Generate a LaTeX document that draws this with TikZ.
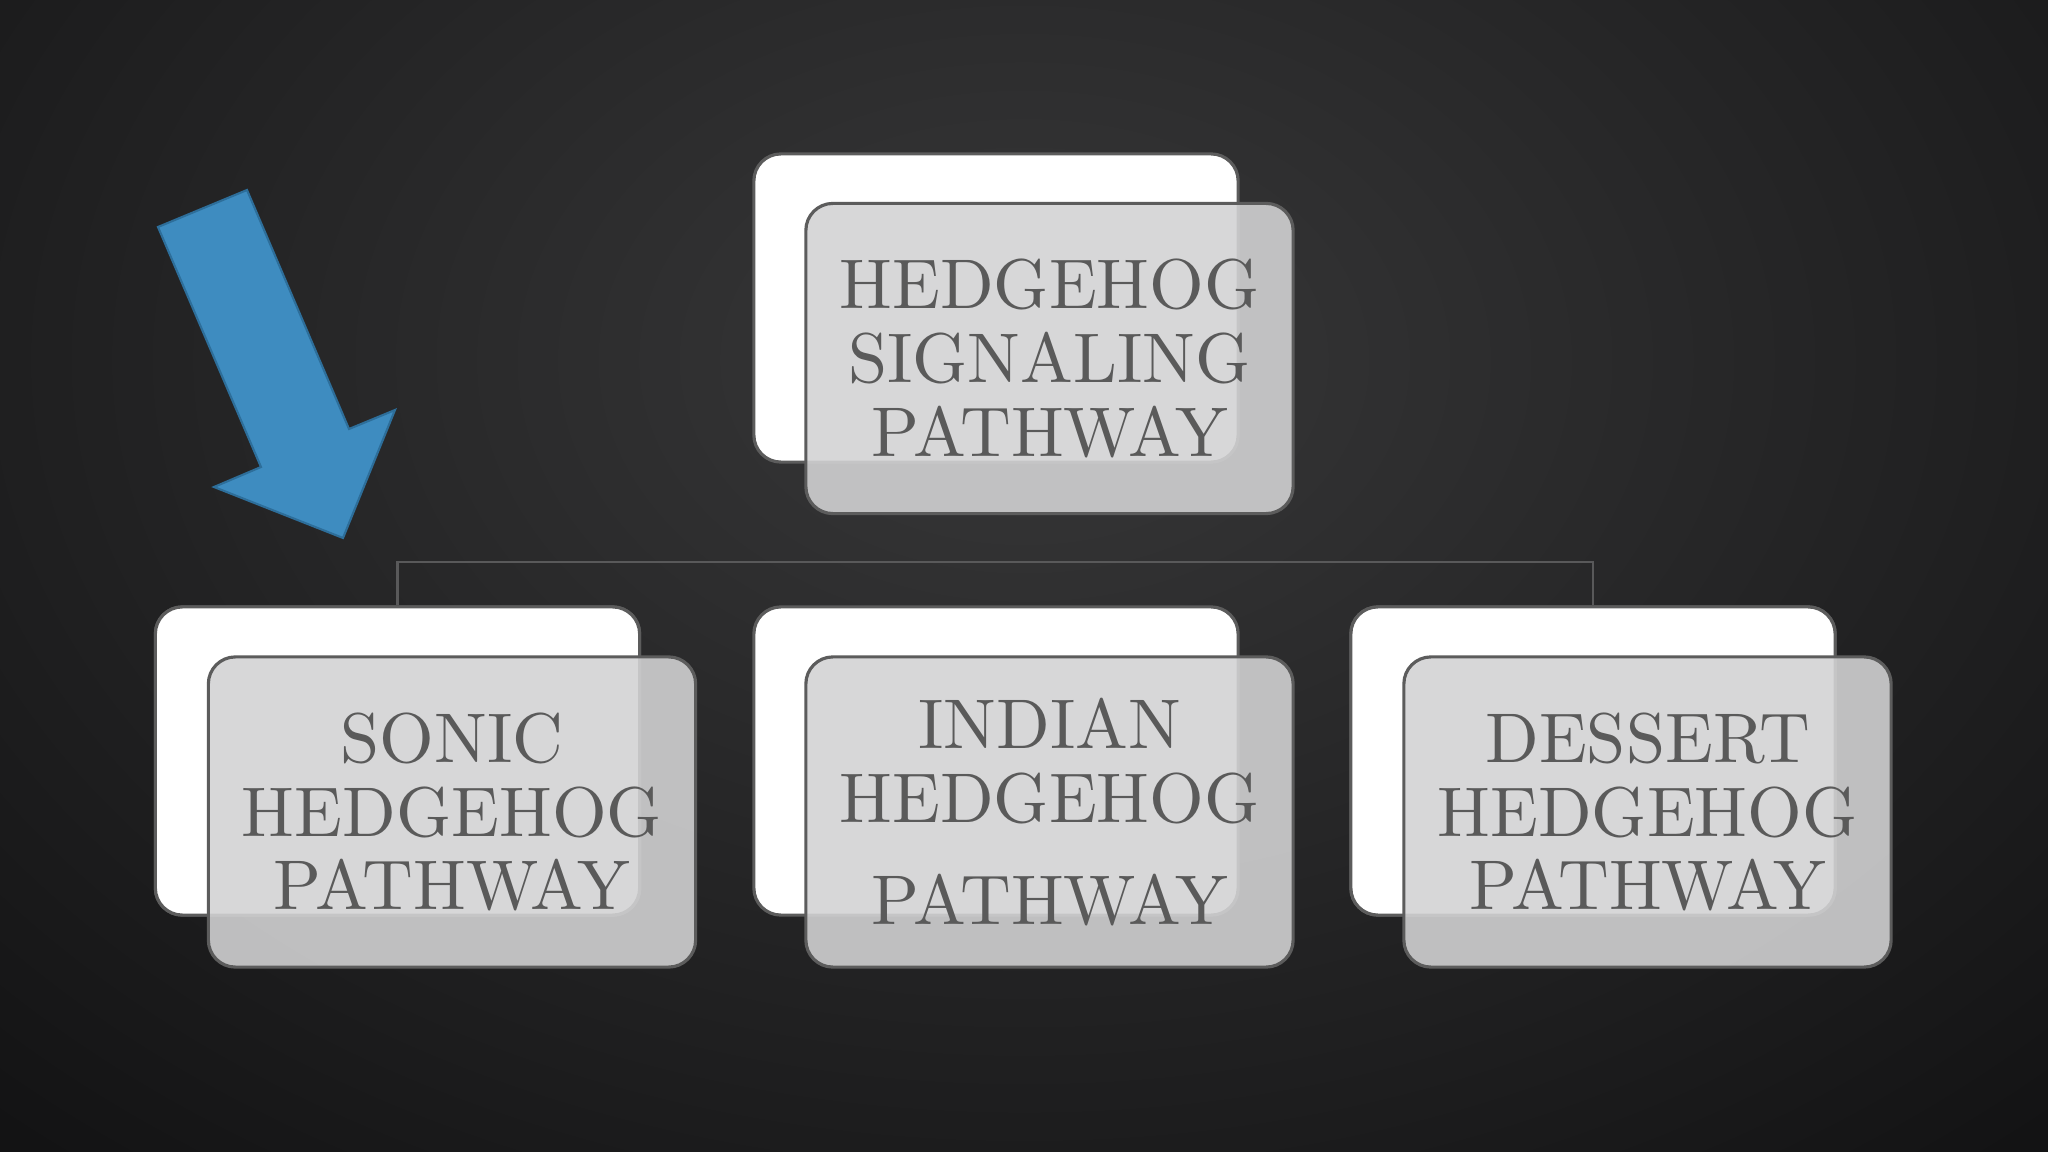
\documentclass[tikz,border=0pt]{standalone}
\usepackage{tikz}
\usepackage{fontspec}
\newfontfamily\lmten{lmroman10-regular.otf}
\definecolor{bgdark}{HTML}{131314}
\definecolor{bgmid}{HTML}{383839}
\definecolor{boxline}{HTML}{5C5C5C}
\definecolor{frontfill}{HTML}{D3D3D4}
\definecolor{txt}{HTML}{5A5A5A}
\definecolor{connc}{HTML}{59595A}
\definecolor{arrowfill}{HTML}{3E8CC0}
\definecolor{arrowline}{HTML}{2D6E9A}
\tikzset{
  backbox/.style={draw=boxline, line width=0.9pt, fill=white, rounded corners=0.27cm,
    minimum width=4.84cm, minimum height=3.08cm, inner sep=0pt},
  frontbox/.style={draw=boxline, line width=0.9pt, fill=frontfill, fill opacity=0.89,
    text opacity=1, draw opacity=1, rounded corners=0.27cm,
    minimum width=4.87cm, minimum height=3.10cm, inner sep=0pt,
    text=txt, align=center, font=\lmten\fontsize{20}{21}\selectfont},
  conn/.style={draw=connc, line width=0.6pt}
}
\begin{document}
\begin{tikzpicture}[x=0.01cm, y=-0.01cm]
\useasboundingbox (0,0) rectangle (2048,1152);
\fill[bgdark] (0,0) rectangle (2048,1152);
\shade[inner color=bgmid, outer color=bgdark] (1024,360) ellipse (1500 and 1050);
% back boxes
\coordinate (bus) at (0,562);
\node[backbox] (topb) at (996,308) {};
\node[backbox] (lb) at (397.5,761) {};
\node[backbox] (mb) at (996,761) {};
\node[backbox] (rb) at (1593,761) {};
% connectors
\draw[conn] (lb.north) |- (rb.north |- bus) -- (rb.north);
% redraw back boxes above connectors
\node[backbox] at (lb) {};
\node[backbox] at (rb) {};
% front boxes with text
\node[frontbox] (topf) at (1049.5,358.5) {HEDGEHOG\\SIGNALING\\PATHWAY};
\node[frontbox] (lf) at (452,812) {SONIC\\HEDGEHOG\\PATHWAY};
\node[frontbox] (mf) at (1049.5,812) {INDIAN\\HEDGEHOG\\[8pt]PATHWAY};
\node[frontbox] (rf) at (1647.5,812) {DESSERT\\HEDGEHOG\\PATHWAY};
% blue arrow
\filldraw[fill=arrowfill, draw=arrowline, line width=0.6pt, line join=miter]
  (158,227) -- (247,190) -- (349,429) -- (395,410) -- (343,538) -- (214,487) -- (261,467) -- cycle;
\end{tikzpicture}
\end{document}
